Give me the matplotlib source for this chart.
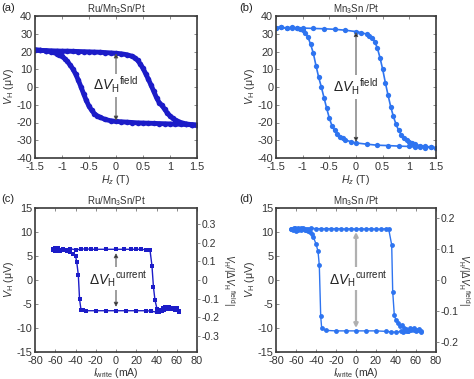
import matplotlib
matplotlib.use("Agg")
import matplotlib.pyplot as plt

plt.rcParams['font.family'] = ['Liberation Sans', 'DejaVu Sans']
plt.rcParams['mathtext.fontset'] = 'custom'
plt.rcParams['mathtext.rm'] = 'Liberation Sans'
plt.rcParams['mathtext.it'] = 'Liberation Sans:italic'
plt.rcParams['mathtext.bf'] = 'Liberation Sans:bold'
plt.rcParams['axes.unicode_minus'] = False

# (a) Ru/Mn3Sn/Pt, field sweep
Ha_up = [-1.5, -1.4, -1.3, -1.2, -1.1, -1.0, -0.9, -0.8, -0.7, -0.6, -0.5, -0.4, -0.3, -0.2, -0.1,
         0.0, 0.1, 0.2, 0.3, 0.35, 0.4, 0.45, 0.5, 0.55, 0.6, 0.65, 0.7, 0.75, 0.8, 0.85, 0.9,
         0.95, 1.0, 1.05, 1.1, 1.2, 1.3, 1.4, 1.5]
Va_up = [20.8, 20.6, 20.5, 20.4, 20.3, 20.2, 20.2, 20.1, 20.0, 19.9, 19.8, 19.7, 19.6, 19.4, 19.2,
         19.0, 18.7, 18.2, 17.3, 16.4, 15.0, 13.0, 10.5, 7.5, 4.3, 1.0, -2.5, -6.0, -8.8, -10.4, -12.5,
         -14.6, -16.3, -17.6, -18.6, -20.0, -20.8, -21.2, -21.5]
Ha_dn = [1.5, 1.4, 1.3, 1.2, 1.1, 1.0, 0.9, 0.8, 0.7, 0.6, 0.5, 0.4, 0.3, 0.2, 0.1,
         0.0, -0.1, -0.2, -0.3, -0.35, -0.4, -0.45, -0.5, -0.55, -0.6, -0.65, -0.7, -0.75, -0.8, -0.85, -0.9,
         -0.95, -1.0, -1.05, -1.1, -1.2, -1.3, -1.4, -1.5]
Va_dn = [-21.5, -21.3, -21.1, -21.0, -20.9, -20.8, -20.7, -20.6, -20.5, -20.4, -20.3, -20.2, -20.0, -19.8, -19.6,
         -19.4, -19.0, -18.3, -17.0, -16.2, -15.0, -13.2, -10.8, -7.6, -3.8, 0.2, 4.0, 7.4, 10.2, 12.4, 14.4,
         16.0, 17.2, 18.1, 18.8, 19.8, 20.4, 20.7, 21.0]

# (b) Mn3Sn/Pt, field sweep
Hb_up = [-1.5, -1.4, -1.3, -1.2, -1.1, -1.0, -0.8, -0.6, -0.4, -0.2, 0.0, 0.1, 0.2, 0.25, 0.3, 0.35,
         0.4, 0.45, 0.5, 0.55, 0.6, 0.65, 0.7, 0.75, 0.8, 0.85, 0.9, 0.95, 1.0, 1.05, 1.1, 1.2, 1.3, 1.4, 1.5]
Vb_up = [33.5, 33.8, 33.2, 33.6, 33.0, 33.2, 33.0, 32.8, 32.5, 32.0, 31.2, 30.6, 29.8, 29.0, 27.8, 25.6,
         22.0, 16.5, 10.0, 2.5, -4.5, -11.0, -16.5, -21.0, -24.5, -27.0, -28.8, -30.0, -30.8, -31.6, -32.2,
         -33.0, -33.4, -33.8, -34.2]
Hb_dn = [1.5, 1.4, 1.3, 1.2, 1.1, 1.0, 0.8, 0.6, 0.4, 0.2, 0.0, -0.1, -0.2, -0.25, -0.3, -0.35,
         -0.4, -0.45, -0.5, -0.55, -0.6, -0.65, -0.7, -0.75, -0.8, -0.85, -0.9, -0.95, -1.0, -1.05, -1.1,
         -1.2, -1.3, -1.4, -1.5]
Vb_dn = [-34.5, -34.0, -34.3, -33.8, -33.9, -33.5, -33.3, -33.0, -32.8, -32.2, -31.5, -30.8, -29.8, -29.0,
         -28.0, -26.5, -24.5, -22.0, -17.5, -12.0, -6.0, 0.0, 5.5, 12.0, 19.0, 24.0, 28.0, 30.5, 32.0, 32.8,
         33.2, 33.5, 33.0, 33.7, 33.5]

# (c) Ru/Mn3Sn/Pt, current sweep
Ic_up = [-62, -60, -58, -57, -55, -53, -50, -47, -45, -40, -35, -30, -25, -20, -10, 0, 8, 15, 20, 25,
         30, 33.6, 35.5, 37, 38.5, 40.5, 42, 44, 46, 48, 50, 52, 54, 56, 58, 60, 62]
Vc_up = [6.2, 6.6, 6.0, 6.4, 6.1, 6.3, 6.2, 6.3, 6.5, 6.3, 6.4, 6.5, 6.4, 6.4, 6.4, 6.4, 6.4, 6.4, 6.4, 6.4,
         6.3, 6.2, 3.0, -1.5, -4.2, -6.0, -6.3, -6.2, -5.9, -5.7, -5.9, -5.6, -6.0, -5.8, -6.2, -5.9, -6.4]
Ic_dn = [62, 60, 57, 55, 52, 50, 47, 45, 42, 40, 35, 30, 20, 10, 0, -10, -20, -30, -33, -34.5,
         -36, -37.2, -38.8, -40, -42, -45, -48, -50, -52, -55, -57, -58, -60, -62]
Vc_dn = [-6.6, -6.2, -5.8, -6.1, -5.7, -6.0, -6.3, -6.4, -6.6, -6.7, -6.5, -6.4, -6.4, -6.4, -6.4, -6.4,
         -6.4, -6.4, -6.3, -6.3, -4.0, 1.0, 3.8, 5.0, 5.5, 5.8, 6.0, 6.2, 6.4, 6.0, 6.6, 6.3, 6.0, 6.5]

# (d) Mn3Sn/Pt, current sweep
Id_up = [-65, -63, -61, -60, -58, -56, -55, -53, -51, -50, -48, -45, -40, -35, -30, -25, -20, -15, -10, -5,
         0, 5, 10, 15, 20, 25, 30, 32.7, 35.7, 36.7, 38.3, 40, 42, 44, 46, 48, 50, 52, 54, 56, 58, 60, 62, 65]
Vd_up = [10.6, 10.4, 10.8, 10.5, 10.9, 10.6, 10.4, 10.8, 10.5, 10.7, 10.6, 10.8, 10.7, 10.7, 10.7, 10.7,
         10.7, 10.7, 10.6, 10.7, 10.6, 10.7, 10.6, 10.7, 10.6, 10.6, 10.7, 10.6, 7.3, -2.4, -7.3, -8.4, -9.0,
         -9.6, -9.3, -10.0, -10.2, -10.6, -10.0, -10.3, -10.1, -10.4, -10.5, -10.7]
Id_dn = [65, 63, 60, 58, 55, 52, 50, 47, 45, 40, 35, 30, 20, 10, 0, -10, -20, -30, -34.3, -35.3,
         -36.7, -38, -40, -42.7, -44, -46, -48, -50, -52, -55, -58, -60, -62, -65]
Vd_dn = [-10.8, -10.3, -10.6, -10.4, -10.5, -10.7, -10.6, -10.8, -10.7, -10.9, -10.8, -10.7, -10.6, -10.6,
         -10.6, -10.6, -10.6, -10.5, -10.1, -7.5, 3.1, 6.0, 7.5, 9.0, 9.6, 9.9, 10.2, 10.4, 10.6, 10.9, 10.5,
         10.3, 10.8, 10.6]

dark_blue = '#1c1cc8'
light_blue = '#2e74f0'
spine_col = '#3a3a3a'
txt_col = '#333333'

fig = plt.figure(figsize=(4.74, 3.79), dpi=100)
W, H = 474.0, 379.0


def make_axes(l, t, r, b):
    return fig.add_axes([l / W, 1 - b / H, (r - l) / W, (b - t) / H])


def style(ax, right=True):
    for s in ax.spines.values():
        s.set_color(spine_col)
        s.set_linewidth(1.2)
    ax.tick_params(direction='in', length=2.5, width=0.6, color='#777777',
                   labelsize=7.8, labelcolor=txt_col, top=True, right=right)
    ax.tick_params(axis='x', pad=3)
    ax.tick_params(axis='y', pad=2)


def arrow(ax, y0, y1, line_col, lw):
    ax.annotate('', xy=(0, y1), xytext=(0, y0),
                arrowprops=dict(arrowstyle='<|-|>', fc='black', ec=line_col, lw=lw,
                                mutation_scale=6, shrinkA=0, shrinkB=0), zorder=3)


axA = make_axes(35, 16, 197, 158)
axB = make_axes(276, 16, 436, 158)
axC = make_axes(35, 208, 197, 352)
axD = make_axes(276, 208, 436, 352)

# field loops
for ax, hu, vu, hd, vd, col, lw, ms in [(axA, Ha_up, Va_up, Ha_dn, Va_dn, dark_blue, 3.5, 4),
                                        (axB, Hb_up, Vb_up, Hb_dn, Vb_dn, light_blue, 1.2, 3.8)]:
    ax.plot(hu, vu, '-o', color=col, lw=lw, ms=ms, mew=0, zorder=2)
    ax.plot(hd, vd, '-o', color=col, lw=lw, ms=ms, mew=0, zorder=2)
    ax.set_xlim(-1.5, 1.5)
    ax.set_ylim(-40, 40)
    ax.set_xticks([-1.5, -1, -0.5, 0, 0.5, 1, 1.5])
    ax.set_xticklabels(['-1.5', '-1', '-0.5', '0', '0.5', '1', '1.5'])
    ax.set_yticks(range(-40, 41, 10))
    style(ax)
    ax.set_xlabel(r'$H_z$ (T)', fontsize=7.6, color=txt_col, labelpad=0.5)
    ax.set_ylabel(r'$V_{\rm H}$ (μV)', fontsize=7.6, color=txt_col, labelpad=0)

arrow(axA, 19, -19, '#555555', 0.8)
axA.text(0, 1, r'$\Delta V_{\rm H}{}^{\rm field}$', ha='center', va='center', fontsize=10,
         color='#222222', bbox=dict(fc='white', ec='none', pad=1), zorder=4)
arrow(axB, 31, -31, '#555555', 0.8)
axB.text(0, 0, r'$\Delta V_{\rm H}{}^{\rm field}$', ha='center', va='center', fontsize=10,
         color='#222222', bbox=dict(fc='white', ec='none', pad=1), zorder=4)

# current loops
for ax, iu, vu, idn, vdn, col, mk, scale, rticks, rpad in [
        (axC, Ic_up, Vc_up, Ic_dn, Vc_dn, dark_blue, 's', 38.8, [-0.3, -0.2, -0.1, 0, 0.1, 0.2, 0.3], 12),
        (axD, Id_up, Vd_up, Id_dn, Vd_dn, light_blue, 'o', 64.6, [-0.2, -0.1, 0, 0.1, 0.2], 9)]:
    ax.plot(iu, vu, '-', marker=mk, color=col, lw=1.0, ms=3.5, mew=0, zorder=2)
    ax.plot(idn, vdn, '-', marker=mk, color=col, lw=1.0, ms=3.5, mew=0, zorder=2)
    ax.set_xlim(-80, 80)
    ax.set_ylim(-15, 15)
    ax.set_xticks(range(-80, 81, 20))
    ax.set_yticks(range(-15, 16, 5))
    style(ax, right=False)
    ax.set_xlabel(r'$I_{\rm write}$ (mA)', fontsize=7.6, color=txt_col, labelpad=0)
    ax.set_ylabel(r'$V_{\rm H}$ (μV)', fontsize=7.6, color=txt_col, labelpad=0)
    tw = ax.twinx()
    tw.set_ylim(-15 / scale, 15 / scale)
    tw.set_yticks(rticks)
    tw.set_yticklabels(['0' if v == 0 else f'{v:g}' for v in rticks])
    tw.tick_params(direction='out', length=2, width=0.6, color='#777777',
                   labelsize=7.5, labelcolor=txt_col, pad=1.5)
    for s in tw.spines.values():
        s.set_visible(False)
    tw.set_ylabel(r'$V_{\rm H}/|\Delta V_{\rm H}{}^{\rm field}|$', fontsize=7, color=txt_col,
                  rotation=270, labelpad=rpad)

arrow(axC, 5.6, -5.6, '#555555', 0.8)
axC.text(2, 0.3, r'$\Delta V_{\rm H}{}^{\rm current}$', ha='center', va='center', fontsize=10,
         color='#222222', bbox=dict(fc='white', ec='none', pad=1), zorder=4)
arrow(axD, 10.0, -10.0, '#b0b0b0', 1.6)
axD.text(2, 0.3, r'$\Delta V_{\rm H}{}^{\rm current}$', ha='center', va='center', fontsize=10,
         color='#222222', bbox=dict(fc='white', ec='none', pad=1), zorder=4)

# titles and panel labels
for ax, title in [(axA, r'Ru/Mn$_3$Sn/Pt'), (axB, r'Mn$_3$Sn /Pt'),
                  (axC, r'Ru/Mn$_3$Sn/Pt'), (axD, r'Mn$_3$Sn /Pt')]:
    ax.set_title(title, fontsize=7, color=txt_col, pad=3)

for x, y, lab in [(1, 8, '(a)'), (239, 8, '(b)'), (1, 199, '(c)'), (239, 199, '(d)')]:
    fig.text(x / W, 1 - y / H, lab, fontsize=8, color='#222222', va='center', ha='left')

fig.savefig('out.png', dpi=100)
